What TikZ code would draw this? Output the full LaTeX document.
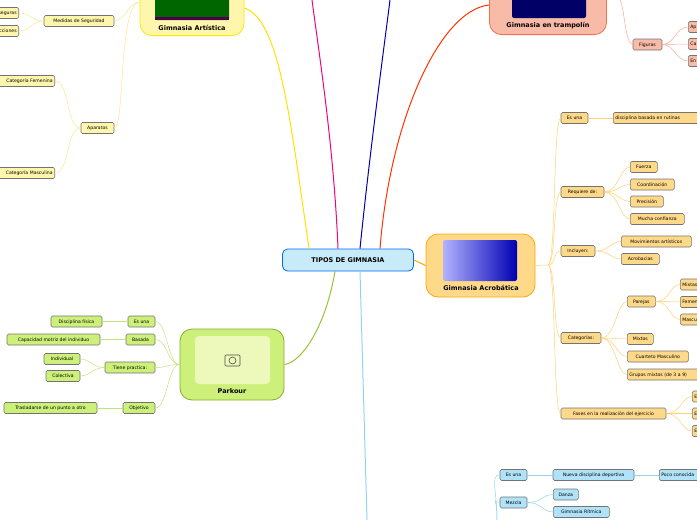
\documentclass[tikz,border=0pt]{standalone}
\usepackage{fontspec}
\setmainfont{DejaVu Sans}
\begin{document}
\begin{tikzpicture}[x=1pt,y=-1pt,
  leaf/.style={draw=black!55,rounded corners=1.5pt,line width=0.6pt,font=\fontsize{4.6}{5}\selectfont,inner sep=0pt,minimum height=11pt,text depth=0pt},
  cutr/.style={text width=#1,align=right,inner xsep=2pt},
  cutl/.style={text width=#1,align=left,inner xsep=2pt},
  yl/.style={leaf,fill=yellowleaf},
  rd/.style={leaf,fill=redleaf},
  og/.style={leaf,fill=orangeleaf},
  gr/.style={leaf,fill=greenleaf},
  bl/.style={leaf,fill=blueleaf},
  main/.style={rounded corners=12pt,line width=0.8pt,font=\fontsize{6.5}{7}\bfseries\selectfont},
  img/.style={rounded corners=2pt,draw=none},
  ycon/.style={draw=yellowline,line width=0.5pt},
  rcon/.style={draw=redline!60,line width=0.5pt},
  ocon/.style={draw=orangeline,line width=0.5pt},
  gcon/.style={draw=greenline!70,line width=0.5pt},
  bcon/.style={draw=blueline,line width=0.5pt}]
\definecolor{yellowleaf}{HTML}{FFF6AE}
\definecolor{redleaf}{HTML}{F8BBA8}
\definecolor{orangeleaf}{HTML}{FFD98A}
\definecolor{greenleaf}{HTML}{CDF07A}
\definecolor{blueleaf}{HTML}{B0E2F8}
\definecolor{yellowline}{HTML}{F8E890}
\definecolor{redline}{HTML}{F07050}
\definecolor{orangeline}{HTML}{FFD070}
\definecolor{greenline}{HTML}{A8D840}
\definecolor{blueline}{HTML}{90D4F0}
\useasboundingbox (0,0) rectangle (697,520);
\clip (0,0) rectangle (697,520);
% main branches
\node[main,draw=blue!60!cyan,fill=blueleaf!70,minimum width=131pt,minimum height=22pt,rounded corners=5pt] (c) at (348,260) {TIPOS DE GIMNASIA};
\node[main,draw=yellow!90!orange,fill=yellowleaf,minimum width=104pt,minimum height=60pt,anchor=south] (art) at (192,36) {};
\fill[green!40!black,img] (155,-5) rectangle (229,20);
\fill[violet!60!black] (155,17) rectangle (229,20);
\node[font=\fontsize{6.5}{7}\bfseries\selectfont] (artl) at (192,28) {Gimnasia Artística};
\node[main,draw=redline,fill=redleaf,minimum width=117pt,minimum height=60pt,anchor=south] (tra) at (548,35) {};
\fill[blue!40!black,img] (512,-5) rectangle (586,18);
\node[font=\fontsize{6.5}{7}\bfseries\selectfont] (tral) at (548,26) {Gimnasia en trampolín};
\node[main,draw=orange!70!yellow,fill=orangeleaf,minimum width=109pt,minimum height=63pt] (acr) at (480.5,265.5) {};
\shade[img,left color=blue!30,right color=blue!70!black] (443,240) rectangle (517,281);
\node[font=\fontsize{6.5}{7}\bfseries\selectfont] (acrl) at (481,288) {Gimnasia Acrobática};
\node[main,draw=greenline!80!black,fill=greenleaf,minimum width=104pt,minimum height=71pt] (par) at (232,364.5) {};
\node[fill=green!10!yellowleaf!70,rounded corners=4pt,minimum width=75pt,minimum height=48pt] (parimg) at (232.5,360) {};
\draw[black!70,line width=0.6pt,rounded corners=1pt] (225,355) rectangle (240,366);
\draw[black!70,line width=0.6pt] (232.5,360.5) circle (3.5);
\node[font=\fontsize{6.5}{7}\bfseries\selectfont] (parl) at (232,391) {Parkour};
\coordinate (pinktop) at (312,0);
\coordinate (bluetop) at (390,0);
\coordinate (lbbot) at (367,520);
\draw[yellow!85!orange,line width=1pt] (c.north west)+(27,0) .. controls (290,120) and (280,20) .. (art.east|-0,8);
\draw[magenta!80!red,line width=1pt] ([xshift=-10pt]c.north) .. controls (334,150) and (320,60) .. (pinktop);
\draw[blue!70!black,line width=1pt] ([xshift=12pt]c.north) .. controls (370,150) and (385,40) .. (bluetop);
\draw[red!60!orange,line width=1pt] ([xshift=32pt]c.north) .. controls (390,120) and (440,10) .. (tra.west|-0,5);
\draw[orange!70!yellow,line width=1pt] (c.east) -- (acr.west);
\draw[greenline!90!black,line width=1pt] ([xshift=-13pt]c.south) .. controls (325,330) and (300,363) .. (par.east);
\draw[blueline,line width=1pt] ([xshift=12pt]c.south) -- (lbbot);
% Artistica
\node[yl,anchor=east,cutr=56pt] (a1) at (19,13) {Manos seguras};
\node[yl,anchor=east,cutr=56pt] (a2) at (19,31) {Protecciones};
\node[yl,minimum width=70pt] (med) at (79,21) {Medidas de Seguridad};
\node[yl,anchor=east,cutr=66pt] (cf) at (55,81) {Categoría Femenina};
\node[yl,minimum width=33pt] (apa) at (97.5,128) {Aparatos};
\node[yl,anchor=east,cutr=66pt] (cm) at (55,173) {Categoría Masculina};
\foreach \n in {a1,a2} \draw[ycon] (med.west) .. controls +(-12,0) and +(12,0) .. (\n.east);
\foreach \n in {cf,cm} \draw[ycon] (apa.west) .. controls +(-15,0) and +(15,0) .. (\n.east);
\draw[ycon] (med.east) .. controls +(10,0) and +(-10,0) .. (art.west|-0,2);
\draw[ycon] (apa.east) .. controls (125,128) and (118,5) .. (art.west|-0,2);
% Trampolin
\node[rd,minimum width=29pt] (fig) at (647.5,44.5) {Figuras};
\node[rd,anchor=west,cutl=30pt] (t1) at (688,27) {Ap};
\node[rd,anchor=west,cutl=30pt] (t2) at (688,44) {Ca};
\node[rd,anchor=west,cutl=30pt] (t3) at (688,61) {En};
\coordinate (trtop) at (620,0);
\draw[rcon] (fig.west) .. controls (625,44) and (625,10) .. (trtop);
\foreach \n in {t1,t2,t3} \draw[rcon] (fig.east) .. controls +(12,0) and +(-12,0) .. (\n.west);
% Acrobatica
\coordinate (tr) at (548,265);
\draw[ocon] (acr.east) -- (tr);
\node[og,minimum width=27pt] (o1) at (574.5,118) {Es una};
\node[og,anchor=west,cutl=95pt] (o1a) at (613,118) {disciplina basada en rutinas};
\node[og,minimum width=43pt] (o2) at (582.5,192) {Requiere de:};
\node[og,anchor=west,minimum width=27pt] (f1) at (630,167) {Fuerza};
\node[og,anchor=west,minimum width=44pt] (f2) at (630,184.5) {Coordinación};
\node[og,anchor=west,minimum width=33pt] (f3) at (630,201.5) {Precisión};
\node[og,anchor=west,minimum width=54pt] (f4) at (630,219) {Mucha confianza};
\node[og,minimum width=34pt] (o3) at (578,251) {Incluyen:};
\node[og,anchor=west,minimum width=70pt] (i1) at (621,241.5) {Movimientos artísticos};
\node[og,anchor=west,minimum width=38pt] (i2) at (621,259) {Acrobacias};
\node[og,minimum width=40pt] (o4) at (581,338) {Categorías:};
\node[og,anchor=west,minimum width=28pt] (ca1) at (627,301.5) {Parejas};
\node[og,anchor=west,cutl=30pt] (p1) at (680,284.5) {Mixtas};
\node[og,anchor=west,cutl=30pt] (p2) at (680,302) {Femeninas};
\node[og,anchor=west,cutl=30pt] (p3) at (680,319.5) {Masculinas};
\node[og,anchor=west,minimum width=26pt] (ca2) at (627,339) {Mixtos};
\node[og,anchor=west,minimum width=61pt] (ca3) at (627,356.5) {Cuarteto Masculino};
\node[og,anchor=west,cutl=80pt] (ca4) at (627,374.5) {Grupos mixtos (de 3 a 9)};
\node[og,minimum width=105pt] (o5) at (613.5,413.5) {Fases en la realización del ejercicio};
\node[og,anchor=west,cutl=30pt] (fa1) at (692,396.5) {E};
\node[og,anchor=west,cutl=30pt] (fa2) at (692,413.5) {E};
\node[og,anchor=west,cutl=30pt] (fa3) at (692,431) {E};
\foreach \n in {o1,o2,o3,o4,o5} \draw[ocon] (tr) .. controls (556,265) and (553,0|-\n.west) .. (\n.west);
\draw[ocon] (o1.east) -- (o1a.west);
\foreach \n in {f1,f2,f3,f4} \draw[ocon] (o2.east) .. controls +(14,0) and +(-10,0) .. (\n.west);
\foreach \n in {i1,i2} \draw[ocon] (o3.east) .. controls +(14,0) and +(-10,0) .. (\n.west);
\foreach \n in {ca1,ca2,ca3,ca4} \draw[ocon] (o4.east) .. controls +(14,0) and +(-10,0) .. (\n.west);
\foreach \n in {p1,p2,p3} \draw[ocon] (ca1.east) .. controls +(14,0) and +(-10,0) .. (\n.west);
\foreach \n in {fa1,fa2,fa3} \draw[ocon] (o5.east) .. controls +(14,0) and +(-10,0) .. (\n.west);
% Blue branch
\coordinate (bt) at (497,520);
\node[bl,minimum width=27pt] (b1) at (513.5,475) {Es una};
\node[bl,minimum width=81pt] (b1a) at (593.5,475) {Nueva disciplina deportiva};
\node[bl,anchor=west,cutl=60pt] (b1b) at (659,475) {Poco conocida};
\node[bl,minimum width=27pt] (b2) at (513.5,502.5) {Mezcla};
\node[bl,anchor=west,minimum width=25pt] (m1) at (553,494.5) {Danza};
\node[bl,anchor=west,minimum width=56pt] (m2) at (553,512) {Gimnasia Rítmica};
\foreach \n in {b1,b2} \draw[bcon] (bt) .. controls (497,490) and (490,0|-\n.west) .. (\n.west);
\draw[bcon] (b1.east) -- (b1a.west);
\draw[bcon] (b1a.east) -- (b1b.west);
\foreach \n in {m1,m2} \draw[bcon] (b2.east) .. controls +(14,0) and +(-10,0) .. (\n.west);
% Parkour
\node[gr,minimum width=27pt] (g1) at (141.5,321.5) {Es una};
\node[gr,minimum width=51pt] (g1a) at (76.5,321.5) {Disciplina física};
\node[gr,minimum width=29pt] (g2) at (140.5,339.5) {Basada};
\node[gr,minimum width=93pt] (g2a) at (53.5,339.5) {Capacidad motriz del individuo};
\node[gr,minimum width=50pt] (g3) at (130,367.5) {Tiene practica:};
\node[gr,minimum width=36pt] (g3a) at (62,359) {Individual};
\node[gr,minimum width=34pt] (g3b) at (63,376) {Colectiva};
\node[gr,minimum width=32pt] (g4) at (139,408) {Objetivo};
\node[gr,minimum width=93pt] (g4a) at (50.5,408) {Trasladarse de un punto a otro};
\foreach \n in {g1,g2,g3,g4} \draw[gcon] (par.west) .. controls +(-12,0) and +(12,0) .. (\n.east);
\draw[gcon] (g1.west) -- (g1a.east);
\draw[gcon] (g2.west) -- (g2a.east);
\draw[gcon] (g4.west) -- (g4a.east);
\foreach \n in {g3a,g3b} \draw[gcon] (g3.west) .. controls +(-12,0) and +(10,0) .. (\n.east);
\end{tikzpicture}
\end{document}
